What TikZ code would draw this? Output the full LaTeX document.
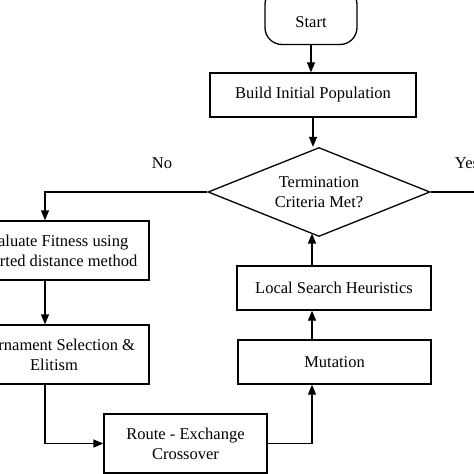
\documentclass[tikz,border=0pt]{standalone}
\usepackage{fontspec}
\setmainfont{Liberation Serif}
\usetikzlibrary{shapes.geometric,arrows.meta}

\begin{document}
\begin{tikzpicture}[x=1pt,y=-1pt,line width=1.3pt,>={Triangle[length=10pt,width=8pt]},
  every node/.style={font=\fontsize{16.5}{20}\selectfont},
  box/.style={draw,rectangle,align=center,inner sep=0pt}]
\fill[white] (0,0) rectangle (474,474);
\useasboundingbox (0,0) rectangle (474,474);
% shapes
\node[box,rounded corners=17pt,minimum width=92pt,minimum height=57pt,text height=23pt] (start) at (311,16) {Start};
\node[box,minimum width=206pt,minimum height=44pt] (build) at (313,95) {Build Initial Population};
\node[draw,diamond,aspect=2.5,inner sep=0pt,align=center,minimum width=222pt,minimum height=89pt] (term) at (319,192) {Termination\\Criteria Met?};
\node[box,minimum width=190pt,minimum height=59pt] (eval) at (54,250.5) {Evaluate Fitness using\\Inverted distance method};
\node[box,minimum width=190pt,minimum height=59pt] (tour) at (54,354.5) {Tournament Selection \&\\Elitism};
\node[box,minimum width=163pt,minimum height=59pt] (route) at (185.5,443.5) {Route - Exchange\\Crossover};
\node[box,minimum width=193pt,minimum height=44pt] (mut) at (334.5,362) {Mutation};
\node[box,minimum width=194pt,minimum height=44pt] (local) at (334,288) {Local Search Heuristics};
\node (no) at (162,163) {No};
\node[anchor=west] (yes) at (451,163) {Yes};
% helper points
\coordinate (lft) at (45,192);
\coordinate (col) at (312,0);
\coordinate (termin) at (312,233.5);
\coordinate (yesend) at (480,192);
% connectors
\draw[->] (start.south) -- (start.south |- build.north);
\draw[->] (build.south) -- (build.south |- term.north);
\draw[->] (term.west) -- (lft) -- (lft |- eval.north);
\draw[->] (eval.south -| lft) -- (lft |- tour.north);
\draw[->] (tour.south -| lft) |- (route.west);
\draw[->] (route.east) -| (col |- mut.south);
\draw[->] (col |- mut.north) -- (col |- local.south);
\draw[->] (col |- local.north) -- (termin);
\draw (term.east) -- (yesend);
\end{tikzpicture}
\end{document}
